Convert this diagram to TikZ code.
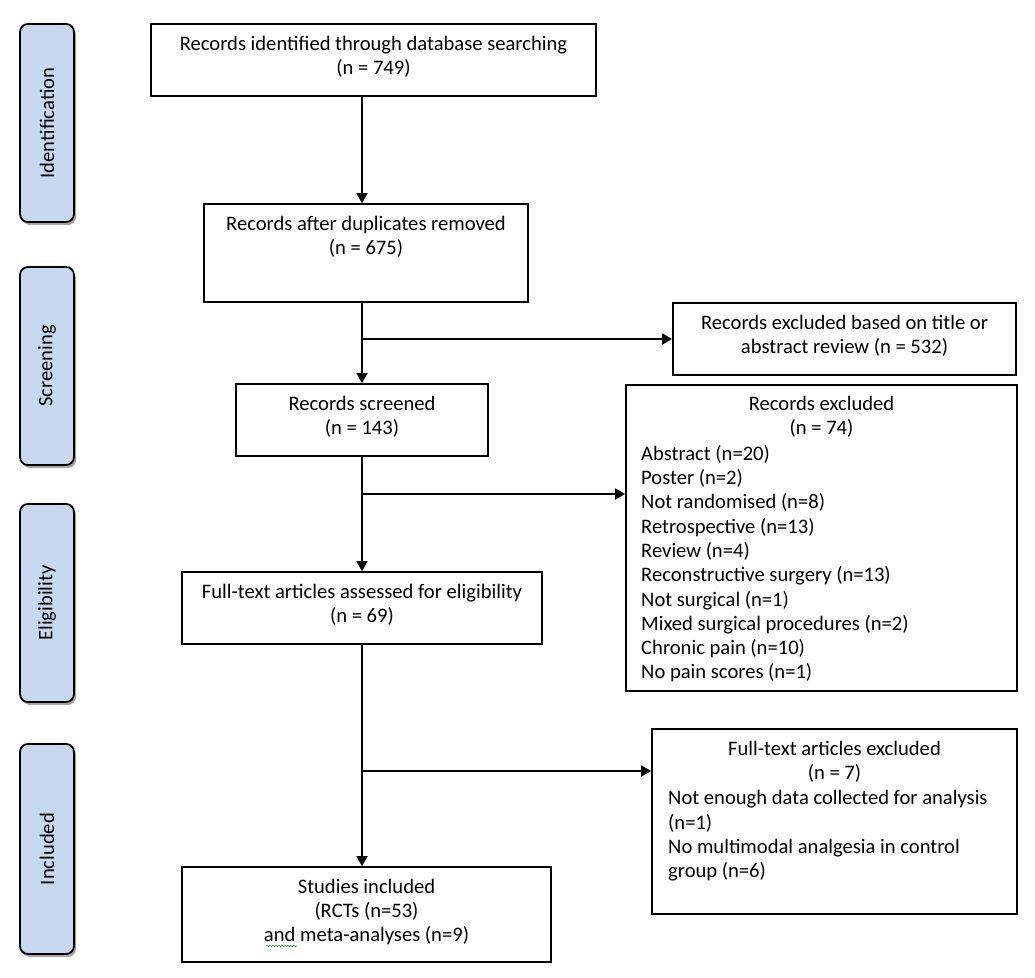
\documentclass[tikz,border=0pt]{standalone}
\usepackage{fontspec}
\setmainfont{Carlito}
\usetikzlibrary{arrows.meta,shadows,calc,decorations.pathmorphing}
\definecolor{phaseblue}{HTML}{C6D9F1}
\definecolor{spellgreen}{HTML}{3C9A3C}
\begin{document}
\begin{tikzpicture}[x=1pt,y=-1pt,
  boxnode/.style={draw, line width=1.8pt, inner sep=0pt},
  txt/.style={inner sep=0pt, font=\fontsize{20.6}{24.3}\selectfont, align=center, anchor=north},
  lst/.style={inner sep=0pt, font=\fontsize{20.6}{24.3}\selectfont, align=left, anchor=north west},
  phase/.style={draw, line width=1.8pt, rounded corners=8pt, fill=phaseblue, inner sep=0pt,
    drop shadow={shadow xshift=2pt, shadow yshift=-3pt, opacity=0.35, fill=black}},
  phasetxt/.style={inner sep=0pt, rotate=90, font=\fontsize{20.6}{24.3}\selectfont},
  arr/.style={line width=1.8pt, -{Triangle[length=10pt,width=11pt]}}
]
\useasboundingbox[fill=white] (0,0) rectangle (1035,977);

% phase labels
\node[phase, minimum width=54pt, minimum height=198pt] (p1) at (47,123) {};
\node[phasetxt] (p1t) at (p1) {Identification};
\node[phase, minimum width=54pt, minimum height=198pt] (p2) at (47,366) {};
\node[phasetxt] (p2t) at (p2) {Screening};
\node[phase, minimum width=54pt, minimum height=198pt] (p3) at (47,603) {};
\node[phasetxt] (p3t) at (p3) {Eligibility};
\node[phase, minimum width=54pt, minimum height=210pt] (p4) at (47,849) {};
\node[phasetxt] (p4t) at (p4) {Included};

% main boxes
\node[boxnode, minimum width=445pt, minimum height=72pt] (b1) at (373.5,60) {};
\node[txt] (t1) at ([yshift=-10pt]b1.north) {\strut Records identified through database searching\\(n = 749)};
\node[boxnode, minimum width=324pt, minimum height=98pt] (b2) at (366,253) {};
\node[txt] (t2) at ([yshift=-10pt]b2.north) {\strut Records after duplicates removed\\(n = 675)};
\node[boxnode, minimum width=252pt, minimum height=72pt] (b3) at (362,420) {};
\node[txt] (t3) at ([yshift=-10pt]b3.north) {\strut Records screened\\(n = 143)};
\node[boxnode, minimum width=360pt, minimum height=72pt] (b4) at (362,608) {};
\node[txt] (t4) at ([yshift=-10pt]b4.north) {\strut Full-text articles assessed for eligibility\\(n = 69)};
\node[boxnode, minimum width=369pt, minimum height=95pt] (b5) at (366.5,914.5) {};
\node[txt] (t5) at ([yshift=-10pt]b5.north) {\strut Studies included\\(RCTs (n=53)\\and meta-analyses (n=9)};

% exclusion boxes
\node[boxnode, minimum width=343pt, minimum height=72pt] (e1) at (844.5,339) {};
\node[txt] (e1t) at ([yshift=-10pt]e1.north) {\strut Records excluded based on title or\\abstract review (n = 532)};
\node[boxnode, minimum width=391pt, minimum height=306pt] (e2) at (821.5,538) {};
\node[txt] (e2t) at ([yshift=-9pt]e2.north) {\strut Records excluded\\(n = 74)};
\node[lst] (e2l) at (641,443) {\strut Abstract (n=20)\\Poster (n=2)\\Not randomised (n=8)\\Retrospective (n=13)\\Review (n=4)\\Reconstructive surgery (n=13)\\Not surgical (n=1)\\Mixed surgical procedures (n=2)\\Chronic pain (n=10)\\No pain scores (n=1)};
\node[boxnode, minimum width=365pt, minimum height=185pt] (e3) at (834.5,821.5) {};
\node[txt] (e3t) at ([yshift=-10pt]e3.north) {\strut Full-text articles excluded\\(n = 7)};
\node[lst] (e3l) at (668,787.6) {\strut Not enough data collected for analysis\\(n=1)\\No multimodal analgesia in control\\group (n=6)};

% connectors
\coordinate (sp) at (362,0);
\draw[arr] (b1.south -| sp) -- (b2.north -| sp);
\draw[arr] (b2.south -| sp) -- (b3.north);
\draw[arr] (b3.south) -- (b4.north);
\draw[arr] (b4.south) -- (b5.north -| sp);
\coordinate (j1) at (362,339);
\draw[arr] (j1) -- (e1.west);
\coordinate (j2) at (362,494);
\draw[arr] (j2) -- (e2.west |- j2);
\coordinate (j3) at (362,771);
\draw[arr] (j3) -- (e3.west |- j3);

% spell-check squiggle under "and"
\coordinate (sq1) at (266,946);
\coordinate (sq2) at (297,946);
\draw[spellgreen, line width=0.6pt, decorate, decoration={snake, amplitude=0.8pt, segment length=3pt}] (sq1) -- (sq2);
\end{tikzpicture}
\end{document}
